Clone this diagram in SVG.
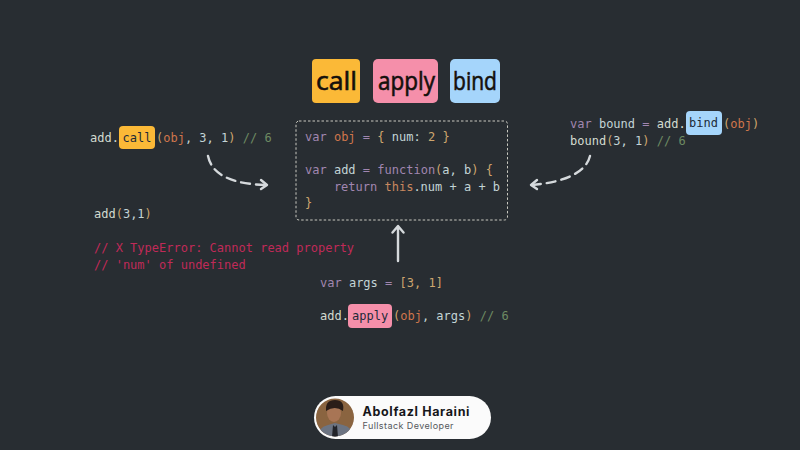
<svg xmlns="http://www.w3.org/2000/svg" width="800" height="450" viewBox="0 0 800 450">
<defs><clipPath id="av"><circle cx="335" cy="417.500" r="19"/></clipPath></defs>
<style>
.c{font-family:"DejaVu Sans Mono","Liberation Mono",monospace;font-size:12px;fill:#d3dbd0;white-space:pre;stroke:currentColor;stroke-width:0}
.k{fill:#a186b0}.o{fill:#d0764c}.y{fill:#cfa66e}.g{fill:#6d8a62}.b{fill:#c3d4d6}.f{fill:#a186b0}.d{fill:#1d2a38}.t{fill:#c9885f}
.e{fill:#c02a58}
.h{font-family:"Open Sans","Liberation Sans",sans-serif;font-size:25px;fill:#14100c;stroke:#14100c;stroke-width:.6px}
.a{fill:none;stroke:#d5d9dc;stroke-width:2.4;stroke-linecap:round;stroke-linejoin:round}
</style>
<rect width="800" height="450" fill="#282d32"/>
<g id="title-call"><rect x="312" y="59" width="48" height="44" rx="4" fill="#fbb937"/><text class="h" x="316" y="90" textLength="41" lengthAdjust="spacingAndGlyphs">call</text></g>
<g id="title-apply"><rect x="373" y="59" width="65" height="44" rx="5" fill="#f58faa"/><text class="h" x="378" y="90" textLength="57" lengthAdjust="spacingAndGlyphs">apply</text></g>
<g id="title-bind"><rect x="450" y="59" width="50" height="44" rx="5" fill="#a5d5fb"/><text class="h" x="453" y="90" textLength="44" lengthAdjust="spacingAndGlyphs">bind</text></g>
<g id="code-box">
<rect x="296" y="121" width="211.500" height="99" rx="3" fill="none" stroke="#c9c9c0" stroke-width="1" stroke-dasharray="2.500 2"/>
<text class="c" x="305" y="141"><tspan class="k">var</tspan> <tspan class="o">obj</tspan> <tspan class="k">=</tspan> <tspan class="y">{</tspan> <tspan class="b">num:</tspan> <tspan class="y">2</tspan> <tspan class="y">}</tspan></text>
<text class="c" x="305" y="174"><tspan class="k">var</tspan> <tspan class="b">add</tspan> <tspan class="k">=</tspan> <tspan class="f">function</tspan><tspan class="y">(</tspan><tspan class="b">a, b</tspan><tspan class="y">) {</tspan></text>
<text class="c" x="305" y="191"><tspan class="k">    return</tspan> <tspan class="t">this</tspan><tspan class="b">.num + a + b</tspan></text>
<text class="c y" x="305" y="207">}</text>
</g>
<g id="call-example">
<rect x="119" y="126" width="36" height="23" rx="4" fill="#fbb937"/>
<text class="c" x="90" y="142">add.</text><text class="c d" x="122.500" y="142">call</text>
<text class="c" x="156" y="142"><tspan class="y">(</tspan><tspan class="o">obj</tspan><tspan class="b">, 3, 1</tspan><tspan class="y">)</tspan> <tspan class="g">// 6</tspan></text>
</g>
<g id="bind-example">
<rect x="686" y="111" width="36" height="24" rx="4" fill="#a5d5fb"/>
<text class="c" x="570" y="128"><tspan class="k">var</tspan> <tspan class="b">bound</tspan> <tspan class="k">=</tspan> add.</text><text class="c d" x="689" y="127">bind</text>
<text class="c" x="723" y="128"><tspan class="y">(</tspan><tspan class="o">obj</tspan><tspan class="y">)</tspan></text>
<text class="c" x="570" y="145">bound<tspan class="y">(</tspan><tspan class="b">3, 1</tspan><tspan class="y">)</tspan> <tspan class="g">// 6</tspan></text>
</g>
<g id="error-example">
<text class="c" x="94" y="218">add<tspan class="y">(</tspan><tspan class="b">3,1</tspan><tspan class="y">)</tspan></text>
<text class="c e" x="94" y="252">// X TypeError: Cannot read property</text>
<text class="c e" x="94" y="269">// 'num' of undefined</text>
</g>
<g id="apply-example">
<rect x="348" y="304" width="44" height="24" rx="4" fill="#f58faa"/>
<text class="c" x="320" y="287"><tspan class="k">var</tspan> <tspan class="b">args</tspan> <tspan class="k">=</tspan> <tspan class="y">[3, 1]</tspan></text>
<text class="c" x="320" y="320">add.</text><text class="c d" x="352" y="320">apply</text>
<text class="c" x="393" y="320"><tspan class="y">(</tspan><tspan class="o">obj</tspan><tspan class="b">, args</tspan><tspan class="y">)</tspan> <tspan class="g">// 6</tspan></text>
</g>
<g id="connectors">
<path class="a" d="M208 156C212 175 232 184 266 185" stroke-dasharray="9 6"/>
<path class="a" d="M261 180L267 185L261 189"/>
<path class="a" d="M590 156C586 172 566 182 532 185" stroke-dasharray="9 6"/>
<path class="a" d="M537 180L531 185L537 189"/>
<path class="a" d="M398 261V227M392.500 232.500L398 226L403.500 232.500"/>
</g>
<g id="author">
<rect x="314" y="396" width="177" height="43" rx="21.500" fill="#fbfbfb"/>
<g clip-path="url(#av)">
<circle cx="335" cy="417.500" r="19.500" fill="#8a6440"/>
<path d="M318 438q0-11 10-13l7-2 8 2q10 2 10 13z" fill="#6c7482"/>
<path d="M333 425l2 2 2-2 1 12h-6z" fill="#22242a"/>
<ellipse cx="334" cy="413" rx="7" ry="9" fill="#a87555"/>
<path d="M326 411q-1-11 9-11t8 11q-8-6-17 0z" fill="#2a1d18"/>
</g>
<text x="362.500" y="416" font-family="Inter,'Liberation Sans',sans-serif" font-size="12.500" font-weight="700" fill="#16161a" textLength="107">Abolfazl Haraini</text>
<text x="362.500" y="429" font-family="Inter,'Liberation Sans',sans-serif" font-size="9" fill="#55585c" textLength="91">Fullstack Developer</text>
</g>
</svg>
